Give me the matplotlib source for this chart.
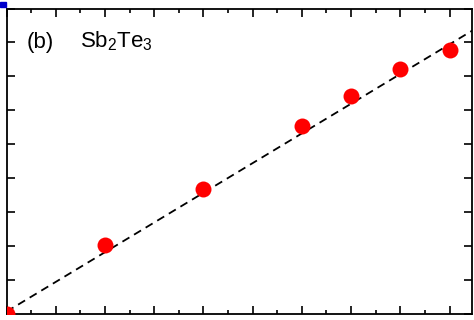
import matplotlib
matplotlib.use("Agg")
import matplotlib.pyplot as plt
from matplotlib.ticker import MultipleLocator

# data (arbitrary units)
x_pts = [0, 2, 4, 6, 7, 8, 9]
y_pts = [0.0, 2.02, 3.69, 5.53, 6.42, 7.21, 7.79]
fit_x = [0, 9.5]
fit_y = [0.07, 0.07 + 0.875 * 9.5]
panel_label = "(b)"
material = r"Sb$_2$Te$_3$"

plt.rcParams['font.family'] = ['Liberation Sans', 'DejaVu Sans']
plt.rcParams['mathtext.fontset'] = 'custom'
plt.rcParams['mathtext.rm'] = 'Liberation Sans'
plt.rcParams['mathtext.it'] = 'Liberation Sans'

fig = plt.figure(figsize=(4.74, 3.2), dpi=100)
ax = fig.add_axes([6.5 / 474, 6.0 / 320, (471.7 - 6.5) / 474, (314 - 8.5) / 320])

ax.plot(fit_x, fit_y, ls=(0, (4.5, 3)), color='black', lw=1.3, zorder=2)
ax.plot(x_pts, y_pts, 'o', color='#ff0000', ms=11.5, mec='none', zorder=3, clip_on=True)

ax.set_xlim(0, 9.45)
ax.set_ylim(0, 9)
ax.xaxis.set_major_locator(MultipleLocator(1))
ax.xaxis.set_minor_locator(MultipleLocator(0.5))
ax.yaxis.set_major_locator(MultipleLocator(1))
ax.tick_params(which='both', direction='in', top=True, right=True,
               labelbottom=False, labelleft=False, width=1.2)
ax.tick_params(which='major', length=6)
ax.tick_params(which='minor', length=3)
for s in ax.spines.values():
    s.set_linewidth(1.3)

ax.text(0.043, 0.872, panel_label, transform=ax.transAxes, fontsize=16, va='baseline')
ax.text(0.158, 0.872, material, transform=ax.transAxes, fontsize=16, va='baseline')

# clipped legend marker from neighbouring panel
fig.patches.append(plt.Rectangle((0, 313 / 320), 6 / 474, 5 / 320,
                                 transform=fig.transFigure, color='#0000cc', zorder=5))

fig.savefig("out.png", dpi=100)
